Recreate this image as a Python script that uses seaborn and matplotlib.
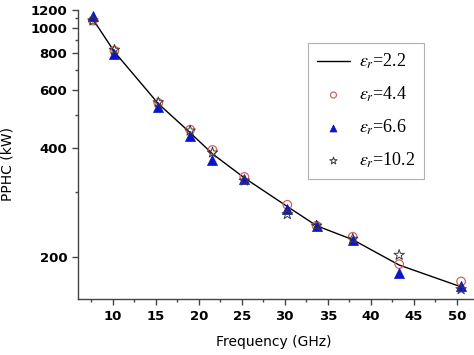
import numpy as np
import pandas as pd
import matplotlib
matplotlib.use("Agg")
import matplotlib.pyplot as plt
import matplotlib.ticker as mticker
import seaborn as sns

# ---- data ----
freq = [7.7, 10.2, 15.3, 19.0, 21.6, 25.3, 30.3, 33.7, 37.9, 43.3, 50.5]
pphc_22 = [1090, 810, 543, 443, 384, 328, 273, 242, 222, 190, 166.5]
pphc_44 = [1075, 817, 546, 452, 394, 330, 276, 242, 226, 191, 172]
pphc_66 = [1128, 794, 530, 432, 369, 326, 269, 242, 221, 181, 167]
pphc_102 = [1075, 823, 548, 449, 387, 322, 260, 242, 223, 202, 164]

labels = [r"$\varepsilon_r$=2.2", r"$\varepsilon_r$=4.4", r"$\varepsilon_r$=6.6", r"$\varepsilon_r$=10.2"]
y_major = [200, 400, 600, 800, 1000, 1200]
y_minor = [300, 500, 700, 900, 1100]
x_major = [10, 15, 20, 25, 30, 35, 40, 45, 50]

df = pd.DataFrame({"freq": freq, "e22": pphc_22, "e44": pphc_44,
                   "e66": pphc_66, "e102": pphc_102})

sns.set_style("ticks")
plt.rcParams["mathtext.fontset"] = "stix"
plt.rcParams["font.family"] = ["DejaVu Sans"]
plt.rcParams["text.color"] = "black"
plt.rcParams["axes.labelcolor"] = "black"
plt.rcParams["xtick.labelcolor"] = "black"
plt.rcParams["ytick.labelcolor"] = "black"

# axis scale of the reference (log-like, compressed at the top)
K = 1.768e-4


def fwd(y):
    y = np.asarray(y, dtype=float)
    with np.errstate(divide="ignore", invalid="ignore"):
        return np.log10(y) - K * y


_ytab = np.geomspace(1.0, 2400.0, 40001)
_ftab = fwd(_ytab)


def inv(f):
    f = np.asarray(f, dtype=float)
    return np.interp(f, _ftab, _ytab)


fig = plt.figure(figsize=(4.74, 3.55), dpi=100)
ax = fig.add_axes([0.1652, 0.1569, 0.8348, 0.8146])
ax.set_yscale("function", functions=(fwd, inv))

sns.lineplot(data=df, x="freq", y="e22", ax=ax, color="black", lw=1.0,
             label=labels[0], zorder=2)
sns.scatterplot(data=df, x="freq", y="e44", ax=ax, marker="o", s=38,
                facecolor="none", edgecolor="#d9605f", linewidth=0.9,
                label=labels[1], zorder=3)
sns.scatterplot(data=df, x="freq", y="e66", ax=ax, marker="^", s=52,
                color="#0a14c8", edgecolor="#0a14c8", linewidth=0.5,
                label=labels[2], zorder=4)
sns.scatterplot(data=df, x="freq", y="e102", ax=ax, marker="*", s=62,
                facecolor="none", edgecolor="#3a3a3a", linewidth=0.7,
                label=labels[3], zorder=5)

ax.set_xlim(6, 52)
ax.set_ylim(154.5, 1200)

ax.yaxis.set_major_locator(mticker.FixedLocator(y_major))
ax.yaxis.set_minor_locator(mticker.FixedLocator(y_minor))
ax.yaxis.set_major_formatter(mticker.FixedFormatter([str(v) for v in y_major]))
ax.yaxis.set_minor_formatter(mticker.NullFormatter())
ax.xaxis.set_major_locator(mticker.FixedLocator(x_major))
ax.xaxis.set_minor_locator(mticker.MultipleLocator(2.5))
ax.xaxis.set_major_formatter(mticker.FixedFormatter([str(v) for v in x_major]))

sns.despine(ax=ax)
for sp in ("left", "bottom"):
    ax.spines[sp].set_color("#444444")
    ax.spines[sp].set_linewidth(1.0)

ax.tick_params(axis="both", which="major", direction="out", length=4.5,
               width=1.0, color="#444444", labelsize=9.5, pad=3.5,
               labelcolor="black")
ax.tick_params(axis="both", which="minor", direction="out", length=2.5,
               width=1.0, color="#444444")
for lab in ax.get_xticklabels() + ax.get_yticklabels():
    lab.set_fontweight("bold")

ax.set_xlabel("Frequency (GHz)", fontsize=10, color="black")
ax.set_ylabel("PPHC (kW)", fontsize=10, color="black")
ax.xaxis.set_label_coords(0.4933, -0.125)
ax.yaxis.set_label_coords(-0.1625, 0.4696)

leg = ax.legend(loc="upper left", bbox_to_anchor=(0.581, 0.887),
                frameon=True, fancybox=False, framealpha=1.0,
                prop={"family": "Liberation Serif", "size": 13},
                handlelength=1.8, handletextpad=0.5, labelspacing=0.75,
                borderpad=0.5, markerscale=0.7, borderaxespad=0)
leg.get_frame().set_edgecolor("#b0b0b0")
leg.get_frame().set_linewidth(0.8)
for t in leg.get_texts():
    t.set_color("black")

fig.savefig("out.png", dpi=100, facecolor="white")
